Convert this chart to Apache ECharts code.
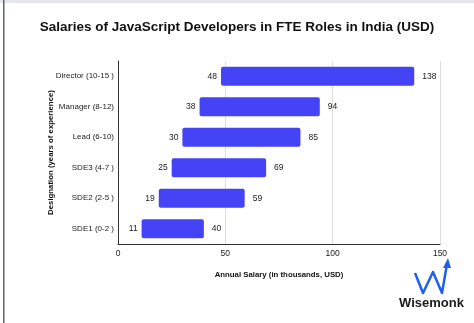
<!DOCTYPE html>
<html>
<head>
<meta charset="utf-8">
<script src="https://cdn.jsdelivr.net/npm/echarts@6/dist/echarts.min.js"></script>
<style>
  html, body { margin: 0; padding: 0; background: #fff; }
  #main { width: 474px; height: 323px; }
</style>
</head>
<body>
<div id="main"></div>
<script>
var roles = ['Director (10-15 )', 'Manager (8-12)', 'Lead (6-10)', 'SDE3 (4-7 )', 'SDE2 (2-5 )', 'SDE1 (0-2 )'];
var minSalary = [48, 38, 30, 25, 19, 11];
var maxSalary = [138, 94, 85, 69, 59, 40];
var xTicks = [0, 50, 100, 150];

var fontFamily = 'Liberation Sans, Arial, Helvetica, sans-serif';
var barColor = '#4444f6';

var myChart = echarts.init(document.getElementById('main'));

// visible part of each bar = max - min, stacked on top of a transparent base
var spans = maxSalary.map(function (v, i) { return v - minSalary[i]; });

var option = {
    animation: false,
    textStyle: { fontFamily: fontFamily },
    title: {
        text: 'Salaries of JavaScript Developers in FTE Roles in India (USD)',
        left: 'center',
        top: 15,
        textStyle: { fontSize: 13.5, fontWeight: 'bold', color: '#111', fontFamily: fontFamily }
    },
    grid: { left: 118, right: 34, top: 61, bottom: 79 },
    xAxis: {
        type: 'value',
        min: xTicks[0],
        max: xTicks[xTicks.length - 1],
        interval: xTicks[1] - xTicks[0],
        name: 'Annual Salary (in thousands, USD)',
        nameLocation: 'middle',
        nameGap: 27,
        nameMoveOverlap: false,
        nameTextStyle: { fontSize: 7.8, fontWeight: 'bold', color: '#111' },
        axisLine: { show: true, lineStyle: { color: '#333', width: 1 } },
        axisTick: { show: false },
        axisLabel: { fontSize: 8.5, color: '#222', margin: 5 },
        splitLine: { lineStyle: { color: '#dedede' } }
    },
    yAxis: {
        type: 'category',
        inverse: true,
        data: roles,
        name: 'Designation (years of experience)',
        nameLocation: 'middle',
        nameGap: 63,
        nameMoveOverlap: false,
        nameTextStyle: { fontSize: 7.8, fontWeight: 'bold', color: '#111' },
        axisLine: { show: true, lineStyle: { color: '#333', width: 1 } },
        axisTick: { show: false },
        axisLabel: { fontSize: 8, color: '#222', margin: 4 }
    },
    series: [{
        name: 'min',
        type: 'bar',
        stack: 'range',
        barWidth: 19,
        itemStyle: { color: 'transparent' },
        label: {
            show: true,
            position: 'insideRight',
            distance: 4,
            fontSize: 8.5,
            color: '#222',
            formatter: function (p) { return minSalary[p.dataIndex]; }
        },
        data: minSalary
    }, {
        name: 'range',
        type: 'bar',
        stack: 'range',
        barWidth: 19,
        itemStyle: { color: barColor, borderRadius: 2 },
        label: {
            show: true,
            position: 'right',
            distance: 8,
            fontSize: 8.5,
            color: '#222',
            formatter: function (p) { return maxSalary[p.dataIndex]; }
        },
        data: spans
    }],
    graphic: [
        // page frame
        { type: 'rect', shape: { x: 0, y: 0, width: 474, height: 3 }, style: { fill: '#e6e7ec' } },
        { type: 'rect', shape: { x: 3, y: 0, width: 1.5, height: 323 }, style: { fill: '#60656b' } },
        // Wisemonk logo
        {
            type: 'polyline',
            shape: { points: [[415, 273], [423, 293], [433, 272], [442, 293], [447, 264]] },
            style: { stroke: '#1f5ef2', lineWidth: 2.5, fill: null, lineJoin: 'round' }
        },
        {
            type: 'polygon',
            shape: { points: [[448, 258], [443, 268], [451, 268]] },
            style: { fill: '#1f5ef2' }
        },
        {
            type: 'text',
            left: 399,
            top: 297,
            style: { text: 'Wisemonk', fontSize: 13, fontWeight: 'bold', fill: '#1b1b1b', fontFamily: fontFamily }
        }
    ]
};

myChart.setOption(option);
</script>
</body>
</html>
